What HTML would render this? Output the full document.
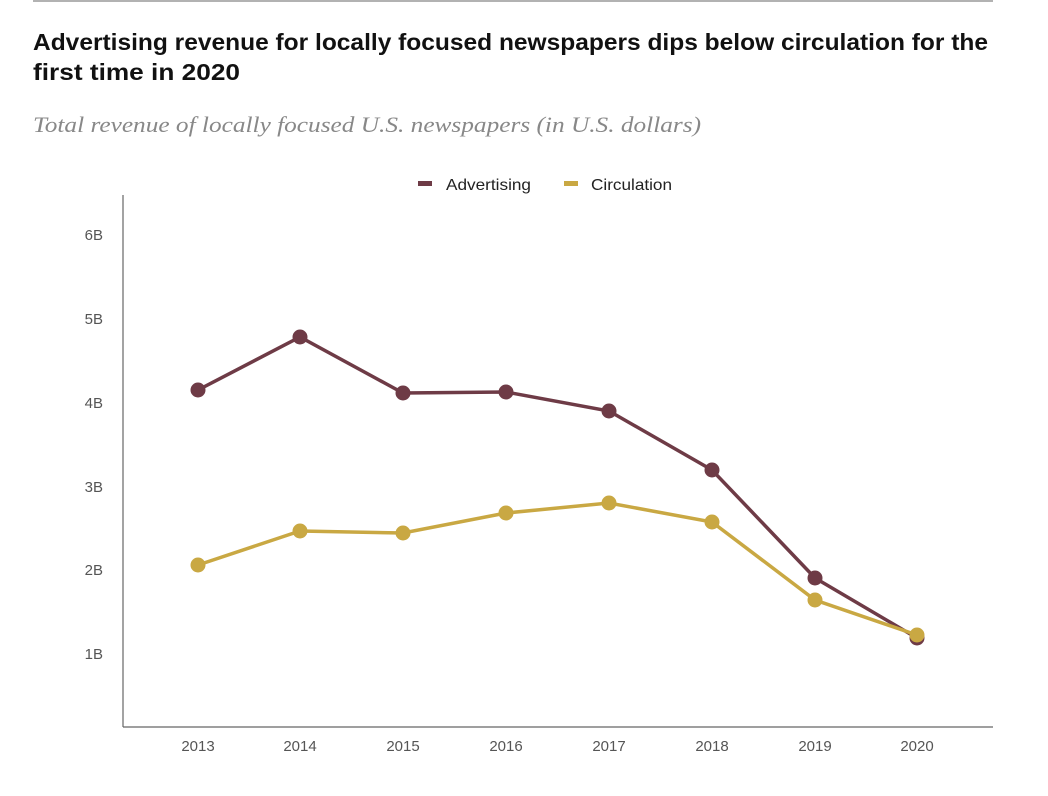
<!DOCTYPE html>
<html><head><style>
html,body{margin:0;padding:0;background:#fff;}
svg{display:block;}
</style></head><body>
<svg width="1048" height="796" viewBox="0 0 1048 796" xmlns="http://www.w3.org/2000/svg">
<line x1="33" y1="1" x2="993" y2="1" stroke="#999" stroke-width="1.5"/>
<text x="33" y="50" font-family="Liberation Sans, sans-serif" font-weight="bold" font-size="23" fill="#111" textLength="955" lengthAdjust="spacingAndGlyphs">Advertising revenue for locally focused newspapers dips below circulation for the</text>
<text x="33" y="80" font-family="Liberation Sans, sans-serif" font-weight="bold" font-size="23" fill="#111" textLength="207" lengthAdjust="spacingAndGlyphs">first time in 2020</text>
<text x="33" y="132" font-family="Liberation Serif, serif" font-style="italic" font-size="22" fill="#888" textLength="668" lengthAdjust="spacingAndGlyphs">Total revenue of locally focused U.S. newspapers (in U.S. dollars)</text>
<rect x="418" y="181" width="14" height="5" fill="#6e3b46"/>
<text x="446" y="190" font-family="Liberation Sans, sans-serif" font-size="16" fill="#222" textLength="85" lengthAdjust="spacingAndGlyphs">Advertising</text>
<rect x="564" y="181" width="14" height="5" fill="#c9a843"/>
<text x="591" y="190" font-family="Liberation Sans, sans-serif" font-size="16" fill="#222" textLength="81" lengthAdjust="spacingAndGlyphs">Circulation</text>
<line x1="123" y1="195" x2="123" y2="727" stroke="#666" stroke-width="1.2"/>
<line x1="123" y1="727" x2="993" y2="727" stroke="#666" stroke-width="1.2"/>
<g font-family="Liberation Sans, sans-serif" font-size="15" fill="#555" text-anchor="end">
<text x="103" y="240">6B</text><text x="103" y="324">5B</text><text x="103" y="408">4B</text>
<text x="103" y="492">3B</text><text x="103" y="575">2B</text><text x="103" y="659">1B</text>
</g>
<g font-family="Liberation Sans, sans-serif" font-size="15" fill="#555" text-anchor="middle">
<text x="198" y="751">2013</text><text x="300" y="751">2014</text><text x="403" y="751">2015</text><text x="506" y="751">2016</text>
<text x="609" y="751">2017</text><text x="712" y="751">2018</text><text x="815" y="751">2019</text><text x="917" y="751">2020</text>
</g>
<g stroke="#6e3b46" fill="#6e3b46">
<polyline fill="none" stroke-width="3.5" points="198,390 300,337 403,393 506,392 609,411 712,470 815,578 917,638"/>
<circle cx="198" cy="390" r="7"/><circle cx="300" cy="337" r="7"/><circle cx="403" cy="393" r="7"/><circle cx="506" cy="392" r="7"/>
<circle cx="609" cy="411" r="7"/><circle cx="712" cy="470" r="7"/><circle cx="815" cy="578" r="7"/><circle cx="917" cy="638" r="7"/>
</g>
<g stroke="#c9a843" fill="#c9a843">
<polyline fill="none" stroke-width="3.5" points="198,565 300,531 403,533 506,513 609,503 712,522 815,600 917,635"/>
<circle cx="198" cy="565" r="7"/><circle cx="300" cy="531" r="7"/><circle cx="403" cy="533" r="7"/><circle cx="506" cy="513" r="7"/>
<circle cx="609" cy="503" r="7"/><circle cx="712" cy="522" r="7"/><circle cx="815" cy="600" r="7"/><circle cx="917" cy="635" r="7"/>
</g>
</svg>
</body></html>
